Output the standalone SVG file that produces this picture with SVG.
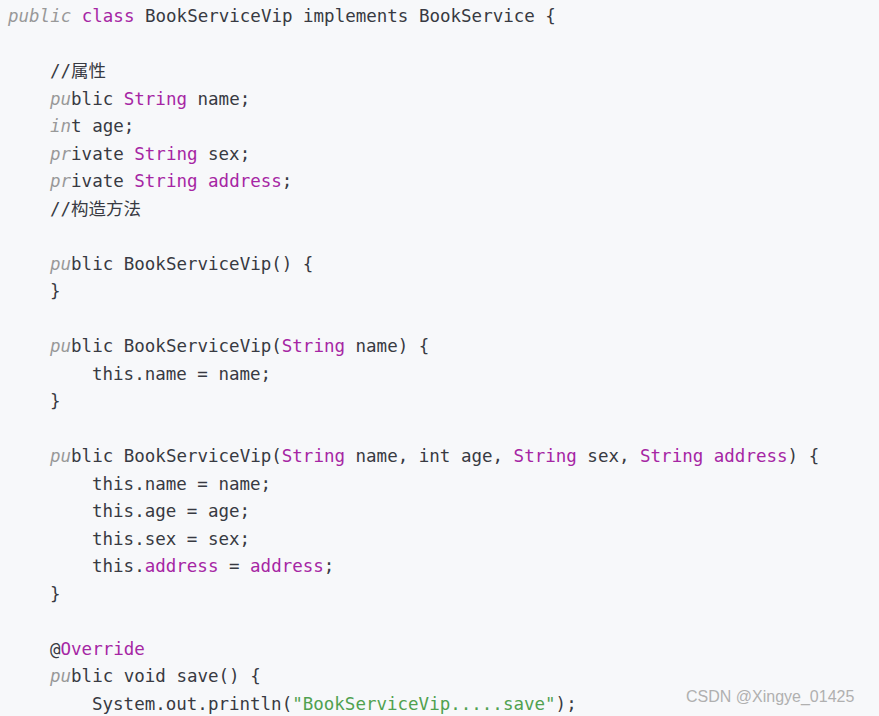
<svg xmlns="http://www.w3.org/2000/svg" width="879" height="716" viewBox="0 0 879 716">
<style>
text{font-family:"DejaVu Sans Mono","Liberation Mono",monospace;font-size:17.5px;fill:#383a42;white-space:pre}
.c{fill:#999;font-style:italic}.k{fill:#a626a4}.s{fill:#50a14f}
.cn{font-family:"DejaVu Sans Mono","Noto Sans CJK SC",monospace}
.w{font-family:"Liberation Sans",sans-serif;font-size:16px;fill:#b0b0b0}
</style>
<rect width="879" height="716" fill="#f7f8fa"/>
<g id="code" transform="translate(0,1)">
<text x="8" y="21"><tspan class="c">public</tspan> <tspan class="k">class</tspan> BookServiceVip implements BookService {</text>
<text x="50" y="76" class="cn">//属性</text>
<text x="50" y="104"><tspan class="c">pu</tspan>blic <tspan class="k">String</tspan> name;</text>
<text x="50" y="131"><tspan class="c">in</tspan>t age;</text>
<text x="50" y="159"><tspan class="c">pr</tspan>ivate <tspan class="k">String</tspan> sex;</text>
<text x="50" y="186"><tspan class="c">pr</tspan>ivate <tspan class="k">String</tspan> <tspan class="k">address</tspan>;</text>
<text x="50" y="214" class="cn">//构造方法</text>
<text x="50" y="269"><tspan class="c">pu</tspan>blic BookServiceVip() {</text>
<text x="50" y="296">}</text>
<text x="50" y="351"><tspan class="c">pu</tspan>blic BookServiceVip(<tspan class="k">String</tspan> name) {</text>
<text x="92" y="379">this.name = name;</text>
<text x="50" y="406">}</text>
<text x="50" y="461"><tspan class="c">pu</tspan>blic BookServiceVip(<tspan class="k">String</tspan> name, int age, <tspan class="k">String</tspan> sex, <tspan class="k">String</tspan> <tspan class="k">address</tspan>) {</text>
<text x="92" y="489">this.name = name;</text>
<text x="92" y="516">this.age = age;</text>
<text x="92" y="544">this.sex = sex;</text>
<text x="92" y="571">this.<tspan class="k">address</tspan> = <tspan class="k">address</tspan>;</text>
<text x="50" y="599">}</text>
<text x="50" y="654">@<tspan class="k">Override</tspan></text>
<text x="50" y="681"><tspan class="c">pu</tspan>blic void save() {</text>
<text x="92" y="709">System.out.println(<tspan class="s">"BookServiceVip.....save"</tspan>);</text>
</g>
<text x="686" y="702" class="w">CSDN @Xingye_01425</text>
</svg>
